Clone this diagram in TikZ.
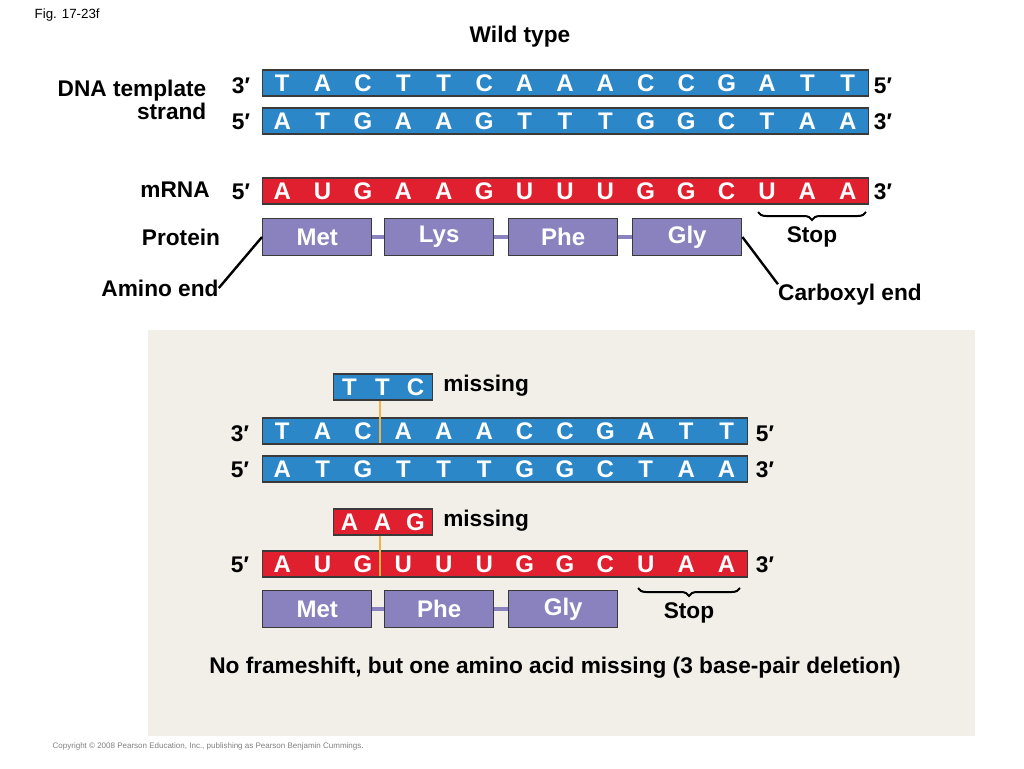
\documentclass[tikz,border=0pt]{standalone}
\usepackage{fontspec}
\setmainfont{Liberation Sans}
\usetikzlibrary{decorations.pathreplacing}
\definecolor{dnab}{HTML}{2B87C8}
\definecolor{rnar}{HTML}{E0202E}
\definecolor{prot}{HTML}{8A82BE}
\definecolor{panel}{HTML}{F2EFE9}
\definecolor{edge}{HTML}{3A3A3A}
\definecolor{gold}{HTML}{F2B24A}
\tikzset{
  lbl/.style={font=\fontsize{17}{17}\selectfont\bfseries, inner sep=0pt},
  base/.style={font=\fontsize{18}{18}\selectfont\bfseries, text=white, inner sep=0pt},
  bar/.style={draw=edge, line width=0.8pt, minimum height=19.5pt, inner sep=0pt, anchor=west},
  aa/.style={draw=edge, line width=0.8pt, fill=prot, minimum height=28pt, minimum width=82pt,
    inner sep=0pt, anchor=west, text=white, font=\fontsize{18}{18}\selectfont\bfseries},
  link/.style={double=prot, double distance=2.5pt, draw=edge, line width=0.6pt},
  brace/.style={decorate, decoration={brace, amplitude=6pt}, line width=1.5pt},
  tick/.style={gold, line width=1.5pt}
}
% #1 name, #2 y, #3 colour, #4 letters
\newcommand{\strandrow}[4]{%
  \node[bar, fill=#3, minimum width=30.3pt*\nbases] (#1) at (262,#2) {};
  \foreach \b [count=\i] in {#4}
    \node[base] (#1-\i) at (262+40.4*\i-20.2,#2) {\b};
}
\begin{document}
\begin{tikzpicture}[x=0.75pt,y=-0.75pt]
\useasboundingbox (0,0) rectangle (1024,768);
\fill[panel] (148,330) rectangle (975,736);

\node[font=\fontsize{10}{10}\selectfont, anchor=west] (fig) at (30,15) {Fig. 17-23f};
\node[lbl] (wild) at (520,37) {Wild type};

% wild type
\def\nbases{15}
\strandrow{s1}{83}{dnab}{T,A,C,T,T,C,A,A,A,C,C,G,A,T,T}
\strandrow{s2}{121}{dnab}{A,T,G,A,A,G,T,T,T,G,G,C,T,A,A}
\strandrow{m1}{191}{rnar}{A,U,G,A,A,G,U,U,U,G,G,C,U,A,A}
\node[lbl, align=right] (dna) at (132,100) {DNA template\\strand};
\node[lbl] (p1a) at (241,86) {3′};
\node[lbl] (p1b) at (883,86) {5′};
\node[lbl] (p2a) at (241,122) {5′};
\node[lbl] (p2b) at (883,122) {3′};
\node[lbl] (mrna) at (175,190) {mRNA};
\node[lbl] (p3a) at (241,192) {5′};
\node[lbl] (p3b) at (883,192) {3′};

\node[lbl] (prlab) at (181,237) {Protein};
\node[aa] (met1) at (262,237) {Met};
\node[aa] (lys1) at (384,237) {Lys};
\node[aa] (phe1) at (508,237) {Phe};
\node[aa] (gly1) at (632,237) {Gly};
\draw[link] (met1) -- (lys1);
\draw[link] (lys1) -- (phe1);
\draw[link] (phe1) -- (gly1);
\draw[brace] (866,212) -- node[lbl, below=10pt] (stop1) {Stop} (758,212);
\node[lbl] (amino) at (160,288) {Amino end};
\node[lbl] (carb) at (850,295) {Carboxyl end};
\draw[line width=1.8pt] (met1.west) -- (amino.east);
\draw[line width=1.8pt] (gly1.east) -- (carb.north west);

% deletion
\node[bar, fill=dnab, minimum width=74pt] (ttc) at (333,387) {};
\foreach \b [count=\i] in {T,T,C}
  \node[base] (ttc-\i) at (333+33*\i-16.5,387) {\b};
\node[lbl, anchor=west] (miss1) at (443,386) {missing};
\def\nbases{12}
\strandrow{s3}{431}{dnab}{T,A,C,A,A,A,C,C,G,A,T,T}
\strandrow{s4}{469}{dnab}{A,T,G,T,T,T,G,G,C,T,A,A}
\node[lbl] (p4a) at (240,434) {3′};
\node[lbl] (p4b) at (765,434) {5′};
\node[lbl] (p5a) at (240,470) {5′};
\node[lbl] (p5b) at (765,470) {3′};
\coordinate (c1) at (380,443);
\draw[tick] (ttc.south -| c1) -- (c1);

\node[bar, fill=rnar, minimum width=74pt] (aag) at (333,522) {};
\foreach \b [count=\i] in {A,A,G}
  \node[base] (aag-\i) at (333+33*\i-16.5,522) {\b};
\node[lbl, anchor=west] (miss2) at (443,521) {missing};
\strandrow{m2}{564}{rnar}{A,U,G,U,U,U,G,G,C,U,A,A}
\node[lbl] (p6a) at (240,565) {5′};
\node[lbl] (p6b) at (765,565) {3′};
\coordinate (c2) at (380,576);
\draw[tick] (aag.south -| c2) -- (c2);

\node[aa] (met2) at (262,609) {Met};
\node[aa] (phe2) at (384,609) {Phe};
\node[aa] (gly2) at (508,609) {Gly};
\draw[link] (met2) -- (phe2);
\draw[link] (phe2) -- (gly2);
\draw[brace] (740,588) -- node[lbl, below=10pt] (stop2) {Stop} (638,588);

\node[lbl] (cap) at (555,668) {No frameshift, but one amino acid missing (3 base-pair deletion)};
\node[font=\fontsize{6}{6}\selectfont, text=gray, anchor=west] (copy) at (48,746)
  {Copyright © 2008 Pearson Education, Inc., publishing as Pearson Benjamin Cummings.};
\end{tikzpicture}
\end{document}
